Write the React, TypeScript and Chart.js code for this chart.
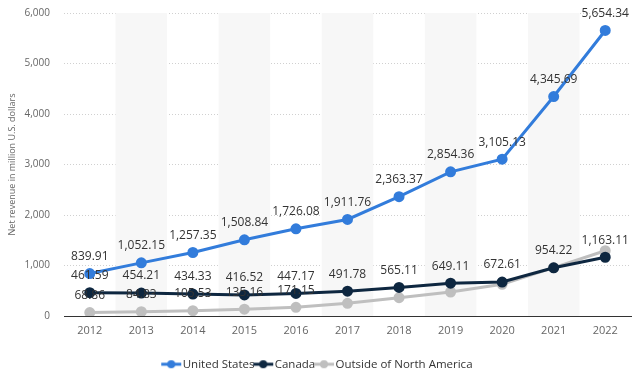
import React, { useEffect, useRef } from "react";
import { Chart, registerables } from "chart.js";

Chart.register(...registerables);

const years = ["2012", "2013", "2014", "2015", "2016", "2017", "2018", "2019", "2020", "2021", "2022"];
const unitedStates = [839.91, 1052.15, 1257.35, 1508.84, 1726.08, 1911.76, 2363.37, 2854.36, 3105.13, 4345.69, 5654.34];
const canada = [461.59, 454.21, 434.33, 416.52, 447.17, 491.78, 565.11, 649.11, 672.61, 954.22, 1163.11];
const outsideNA = [68.86, 84.83, 105.53, 135.16, 171.15, 251, 363, 475, 627, 957, 1293];
const showUS = [true, true, true, true, true, true, true, true, true, true, true];
const showCanada = [true, true, true, true, true, true, true, true, true, true, true];
const showOutside = [true, true, true, true, true, false, false, false, false, false, false];
const yTicks = [0, 1000, 2000, 3000, 4000, 5000, 6000];

const colors = ["#327cdb", "#0e2740", "#bfbfbf"];

function legendIcon(color: string) {
  const c = document.createElement("canvas");
  c.width = 22;
  c.height = 10;
  const ctx = c.getContext("2d")!;
  ctx.strokeStyle = color;
  ctx.lineWidth = 3;
  ctx.beginPath();
  ctx.moveTo(1, 5);
  ctx.lineTo(21, 5);
  ctx.stroke();
  ctx.fillStyle = color;
  ctx.beginPath();
  ctx.arc(11, 5, 4, 0, Math.PI * 2);
  ctx.fill();
  return c;
}

const fmt = (v: number) =>
  v.toLocaleString("en-US", { minimumFractionDigits: 2, maximumFractionDigits: 2 });

const bandPlugin = {
  id: "bands",
  beforeDatasetsDraw(chart: any) {
    const { ctx, chartArea, scales } = chart;
    const x = scales.x;
    ctx.save();
    ctx.fillStyle = "#f7f7f7";
    for (let i = 1; i < years.length; i += 2) {
      const c = x.getPixelForValue(i);
      const w = x.width / years.length;
      ctx.fillRect(c - w / 2, chartArea.top, w, chartArea.bottom - chartArea.top);
    }
    ctx.restore();
  },
};

const labelPlugin = {
  id: "valueLabels",
  afterDatasetsDraw(chart: any) {
    const { ctx } = chart;
    const shows = [showUS, showCanada, showOutside];
    ctx.save();
    ctx.font = "12px 'Open Sans'";
    ctx.fillStyle = "#333333";
    ctx.textAlign = "center";
    ctx.textBaseline = "middle";
    chart.data.datasets.forEach((ds: any, di: number) => {
      const meta = chart.getDatasetMeta(di);
      meta.data.forEach((pt: any, i: number) => {
        if (!shows[di][i]) return;
        ctx.fillText(fmt(ds.data[i]), pt.x, pt.y - 17);
      });
    });
    ctx.restore();
  },
};

export default function App() {
  const ref = useRef<HTMLCanvasElement>(null);
  useEffect(() => {
    document.body.style.margin = "0";
    const names = ["United States", "Canada", "Outside of North America"];
    const series = [unitedStates, canada, outsideNA];
    const icons = colors.map(legendIcon);
    const chart = new Chart(ref.current!, {
      type: "line",
      data: {
        labels: years,
        datasets: series.map((d, i) => ({
          label: names[i],
          data: d,
          borderColor: colors[i],
          backgroundColor: colors[i],
          borderWidth: 3,
          pointRadius: 4,
          pointHoverRadius: 4,
          pointStyle: "circle",
          tension: 0,
          order: i,
        })),
      },
      options: {
        animation: false,
        responsive: false,
        maintainAspectRatio: false,
        layout: { padding: { top: 0, right: 9, left: 7, bottom: 0 } },
        plugins: {
          tooltip: { enabled: false },
          legend: {
            position: "bottom",
            labels: {
              usePointStyle: true,
              color: "#333333",
              font: { family: "'Open Sans'", size: 11.5 },
              padding: 3,
              generateLabels: (ch: any) =>
                ch.data.datasets.map((ds: any, i: number) => ({
                  text: ds.label,
                  fillStyle: colors[i],
                  strokeStyle: colors[i],
                  pointStyle: icons[i],
                  datasetIndex: i,
                  hidden: false,
                  lineWidth: 0,
                  fontColor: "#333333",
                })),
            },
          },
        },
        scales: {
          x: {
            type: "category",
            offset: true,
            grid: { display: false, drawTicks: false },
            border: { display: true, color: "#333333", width: 1 },
            ticks: {
              color: "#666666",
              font: { family: "'Open Sans'", size: 11 },
              padding: 8,
            },
            afterFit: (s: any) => {
              s.height = 39.5;
            },
          },
          y: {
            min: 0,
            max: 6000,
            afterBuildTicks: (s: any) => {
              s.ticks = yTicks.map((v) => ({ value: v }));
            },
            grid: {
              color: "#d0d0d0",
              lineWidth: 1,
              drawTicks: true,
              tickLength: 7,
              tickColor: "rgba(0,0,0,0)",
            },
            border: { display: false, dash: [1, 2] },
            ticks: {
              color: "#666666",
              font: { family: "'Open Sans'", size: 10 },
              padding: 7,
              callback: (v: any) => Number(v).toLocaleString("en-US"),
            },
            title: {
              display: true,
              text: "Net revenue in million U.S. dollars",
              color: "#666666",
              font: { family: "'Open Sans'", size: 9 },
              padding: { top: 0, bottom: 2 },
            },
            afterFit: (s: any) => {
              s.width = 57;
            },
          },
        },
      },
      plugins: [bandPlugin, labelPlugin],
    });
    return () => chart.destroy();
  }, []);
  return (
    <div style={{ width: 640, height: 380 }}>
      <canvas ref={ref} width={640} height={380} />
    </div>
  );
}
